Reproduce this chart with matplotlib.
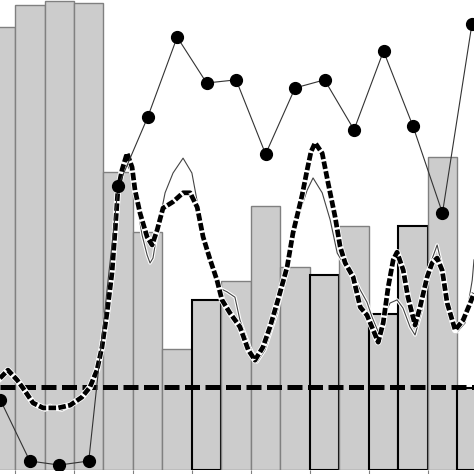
import matplotlib
matplotlib.use("Agg")
import matplotlib.pyplot as plt
import numpy as np

# ---- data ----
bar_values = [98.4, 103.3, 104.2, 103.8, 66.2, 52.9, 26.9, 37.8, 42.0, 58.7,
              45.1, 43.3, 54.2, 34.7, 54.2, 69.6, 18.2]
bar_highlight = [False, False, False, False, False, False, False, True, False, False,
                 False, True, False, True, True, False, True]
point_values = [15.6, 2.0, 1.1, 2.0, 63.1, 78.4, 96.2, 86.0, 86.7, 70.2,
                84.9, 86.7, 75.6, 93.1, 76.4, 57.1, 99.1]
threshold = 18.4

smooth_x = [-0.01, 0.26, 0.57, 0.77, 1.11, 1.45, 1.96, 2.37, 2.77, 3.04, 3.28, 3.45,
            3.62, 3.79, 3.89, 3.99, 4.13, 4.30, 4.47, 4.57, 4.74, 4.98, 5.15, 5.32,
            5.52, 5.86, 6.20, 6.44, 6.68, 6.88, 7.12, 7.35, 7.52, 7.79, 8.13, 8.41,
            8.64, 8.91, 9.15, 9.42, 9.73, 9.93, 10.24, 10.41, 10.54, 10.68, 10.92,
            11.12, 11.36, 11.53, 11.70, 11.97, 12.21, 12.44, 12.65, 12.82, 12.99,
            13.16, 13.33, 13.46, 13.67, 13.83, 14.07, 14.24, 14.48, 14.65, 14.82,
            14.99, 15.16, 15.43, 15.70, 15.94, 16.07]
smooth_y = [20.4, 22.2, 20.0, 18.2, 14.9, 13.8, 13.8, 14.4, 16.2, 18.4, 22.2, 27.3,
            34.9, 43.8, 52.7, 62.2, 66.7, 70.4, 67.3, 62.2, 57.1, 51.8, 50.0, 53.3,
            58.2, 59.6, 61.6, 61.6, 58.4, 51.8, 46.7, 42.2, 37.8, 34.9, 31.8, 26.7,
            24.4, 27.3, 31.8, 37.8, 45.1, 52.7, 61.1, 66.7, 70.7, 72.7, 70.4,
            63.8, 56.2, 49.6, 46.0, 42.9, 36.2, 34.4, 31.1, 28.4, 32.7,
            40.7, 46.7, 48.4, 44.4, 38.4, 32.2, 36.2, 42.9, 46.0, 47.1,
            44.4, 37.1, 31.1, 33.3, 37.1, 39.3]

raw_x = [-0.01, 0.26, 0.57, 0.84, 1.18, 1.52, 1.69, 1.86, 2.09, 2.43, 2.77, 3.04,
         3.28, 3.48, 3.65, 3.79, 3.93, 4.06, 4.27, 4.47, 4.64, 4.81, 4.98, 5.08,
         5.18, 5.32, 5.59, 5.86, 6.20, 6.50, 6.67, 6.95, 7.18, 7.35, 7.69, 7.96,
         8.13, 8.47, 8.71, 8.98, 9.39, 9.83, 10.10, 10.41, 10.61, 10.92, 11.19,
         11.43, 11.63, 11.93, 12.21, 12.44, 12.61, 12.82, 12.99, 13.22, 13.46,
         13.66, 13.90, 14.07, 14.31, 14.51, 14.82, 15.02, 15.19, 15.50, 15.77,
         16.01, 16.07]
raw_y = [20.0, 21.8, 19.8, 17.3, 14.4, 13.3, 14.4, 13.6, 13.3, 14.4, 16.2, 18.9,
         22.9, 28.9, 37.8, 46.7, 56.7, 64.4, 68.4, 65.6, 58.9, 52.2, 47.8, 46.0,
         47.1, 52.7, 61.6, 66.0, 69.3, 66.0, 60.0, 51.1, 44.4, 40.7, 39.6, 38.4,
         33.3, 27.3, 24.0, 26.7, 34.9, 47.3, 56.2, 62.2, 64.9, 61.6, 55.6,
         48.2, 46.0, 43.8, 40.0, 37.3, 34.0, 30.7, 34.0, 37.1, 37.8,
         36.0, 31.8, 30.0, 35.6, 44.4, 50.0, 44.4, 37.1, 30.7, 32.7,
         42.2, 46.7]

tick_positions = [0.5, 2.5, 4.5, 6.5, 8.5, 10.5, 12.5, 14.5]

# ---- figure ----
fig = plt.figure(figsize=(4.74, 4.74), dpi=100)
ax = fig.add_axes([0, 4 / 474, 1, 470 / 474])

xs = np.arange(len(bar_values))
edge = ['black' if h else '#808080' for h in bar_highlight]
lws = [1.5 if h else 1.0 for h in bar_highlight]
ax.bar(xs, bar_values, width=1.0, color='#cccccc', edgecolor=edge,
       linewidth=lws, zorder=1)

ax.axhline(threshold, color='black', lw=3.6, dashes=(3.0, 1.1), zorder=3)

# thin raw curve with white halo
ax.plot(raw_x, raw_y, color='white', lw=2.4, zorder=4, solid_capstyle='round')
ax.plot(raw_x, raw_y, color='#444444', lw=0.8, zorder=4.1)

# thick dashed smooth curve with white underlay
ax.plot(smooth_x, smooth_y, color='white', lw=4.6, zorder=5)
ax.plot(smooth_x, smooth_y, color='black', lw=3.4, dashes=(1.6, 0.5), zorder=5.1)

# dot line
ax.plot(xs, point_values, color='#333333', lw=0.8, zorder=6)
ax.plot(xs, point_values, 'o', color='black', ms=8.5, zorder=6.1)

ax.set_xlim(-0.01, 16.07)
ax.set_ylim(0, 470 / 4.5)
for s in ax.spines.values():
    s.set_visible(False)
ax.set_xticks(tick_positions)
ax.set_xticklabels([])
ax.set_yticks([])
ax.tick_params(axis='x', direction='out', length=3, width=0.8, color='#808080')

fig.savefig('out.png', dpi=100)
